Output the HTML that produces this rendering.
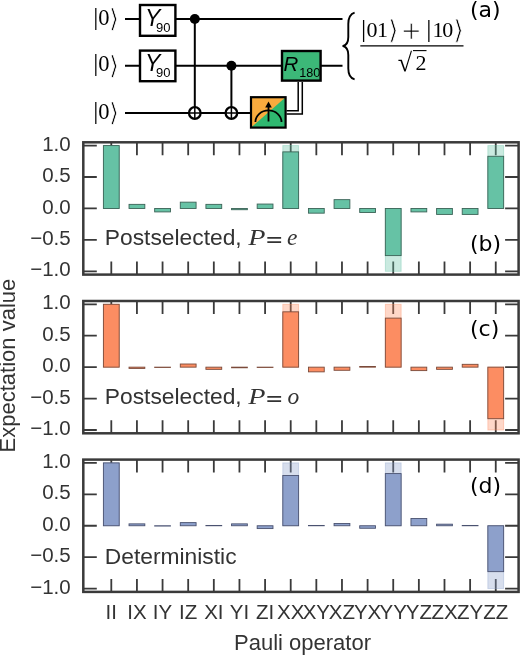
<!DOCTYPE html>
<html><head><meta charset="utf-8"><title>Pauli expectation values</title>
<style>
html,body{margin:0;padding:0;background:#fff;width:520px;height:655px;overflow:hidden;}
svg{display:block;}
svg{font-family:"Liberation Sans",Arial,sans-serif;} text{fill:#333333;} .k text, text.k{fill:#000;} .r{font-family:"Liberation Serif","DejaVu Serif",serif;} .rs{font-family:"Liberation Serif",serif;} .dv{font-family:"DejaVu Sans",sans-serif;} .dvs{font-family:"DejaVu Serif",serif;} .th{stroke:#fff;stroke-width:0.7px;}
</style></head><body>
<svg width="520" height="655" viewBox="0 0 520 655">
<g id="circuit" stroke="#000" fill="none">
<line x1="125" y1="19.0" x2="342.5" y2="19.0" stroke-width="2"/>
<line x1="125" y1="65.7" x2="342.5" y2="65.7" stroke-width="2"/>
<line x1="125" y1="113.0" x2="251" y2="113.0" stroke-width="2"/>
<line x1="194.8" y1="19.0" x2="194.8" y2="113.0" stroke-width="2"/>
<line x1="231.4" y1="65.7" x2="231.4" y2="113.0" stroke-width="2"/>
<circle cx="194.8" cy="19.0" r="5" fill="#000" stroke="none"/>
<circle cx="231.4" cy="65.7" r="5" fill="#000" stroke="none"/>
<circle cx="194.8" cy="113.0" r="5.8" fill="#fff" stroke-width="2.3"/>
<line x1="189.0" y1="113.0" x2="200.60000000000002" y2="113.0" stroke-width="1.5"/>
<line x1="194.8" y1="107.2" x2="194.8" y2="118.8" stroke-width="1.5"/>
<circle cx="231.4" cy="113.0" r="5.8" fill="#fff" stroke-width="2.3"/>
<line x1="225.6" y1="113.0" x2="237.20000000000002" y2="113.0" stroke-width="1.5"/>
<line x1="231.4" y1="107.2" x2="231.4" y2="118.8" stroke-width="1.5"/>
<rect x="140" y="5.0" width="35.4" height="30.799999999999997" fill="#fff" stroke-width="2.4"/>
<rect x="140" y="50.6" width="35.4" height="30.6" fill="#fff" stroke-width="2.4"/>
<rect x="282" y="51" width="38.6" height="29.6" fill="#3cb878" stroke-width="2.4"/>
<rect x="251" y="97.2" width="34.6" height="30.4" fill="#f9ab3e" stroke="none"/>
<path d="M251,127.6 L285.6,97.2 L285.6,127.6 Z" fill="#2fb870" stroke="none"/>
<rect x="251" y="97.2" width="34.6" height="30.4" fill="none" stroke-width="2.2"/>
<path d="M255.4,122 A13,11.5 0 0 1 281.5,122" stroke-width="1.8"/>
<line x1="268.5" y1="121.5" x2="268.5" y2="106" stroke-width="1.8"/>
<path d="M265.2,107.6 L268.5,101.5 L271.8,107.6 Z" fill="#000" stroke="none"/>
<path d="M286.5,110.7 H298.2 V82" stroke-width="1.5"/>
<path d="M286.5,114.1 H302.3 V82" stroke-width="1.5"/>
<path d="M354.6,12.6 C350.2,14 348.3,17.5 348.3,24 L348.3,37 C348.3,42.5 346.8,45 343.2,46 C346.8,47 348.3,49.5 348.3,55 L348.3,68.5 C348.3,75 350.2,78.2 354.6,79.4" stroke-width="1.9" stroke-linejoin="round"/>
</g>
<g class="r k">
<text y="24.7"><tspan x="93.3" font-size="25.5">|</tspan><tspan x="98.3" font-size="22.5">0</tspan><tspan x="108.9" y="26.8" font-size="25.5" class="th">⟩</tspan></text>
<text y="71.4"><tspan x="93.3" font-size="25.5">|</tspan><tspan x="98.3" font-size="22.5">0</tspan><tspan x="108.9" y="73.5" font-size="25.5" class="th">⟩</tspan></text>
<text y="118.7"><tspan x="93.3" font-size="25.5">|</tspan><tspan x="98.3" font-size="22.5">0</tspan><tspan x="108.9" y="120.8" font-size="25.5" class="th">⟩</tspan></text>
</g>
<g class="k">
<text x="145" y="25.5" font-size="23" font-style="italic">Y</text><text x="156" y="31.7" font-size="13">90</text>
<text x="145" y="71.1" font-size="23" font-style="italic">Y</text><text x="156" y="77.3" font-size="13">90</text>
<text x="283.5" y="71.4" font-size="20.5" font-style="italic">R</text><text x="299.2" y="76.9" font-size="12.6">180</text>
</g>
<g class="r k">
<text y="36.7" font-size="22"><tspan x="361" font-size="26">|</tspan><tspan x="366.4">0</tspan><tspan x="377">1</tspan><tspan x="388.2" y="38.85" font-size="26" class="th">⟩</tspan><tspan x="400.8" y="38.6" font-size="25" class="dvs th">+</tspan><tspan x="426.2" y="36.7" font-size="26">|</tspan><tspan x="432.6">1</tspan><tspan x="442.2">0</tspan><tspan x="453.6" y="38.85" font-size="26" class="th">⟩</tspan></text>
<text y="70.8" font-size="26"><tspan x="397.7">√</tspan><tspan x="415.6" y="69.5" font-size="22">2</tspan></text>
</g>
<line x1="360.3" y1="45.8" x2="463.5" y2="45.8" stroke="#000" stroke-width="1.2"/>
<line x1="413" y1="50.6" x2="426.5" y2="50.6" stroke="#000" stroke-width="1.1"/>
<text x="470" y="17.3" class="dv k" font-size="22">(a)</text>
<path d="M83.3,145.59h13.5M518.6,145.59h-13.5M83.3,177.02h13.5M518.6,177.02h-13.5M83.3,208.45h13.5M518.6,208.45h-13.5M83.3,239.88h13.5M518.6,239.88h-13.5M83.3,271.31h13.5M518.6,271.31h-13.5M111.3,142.3v13M111.3,274.6v-13M136.93,142.3v13M136.93,274.6v-13M162.56,142.3v13M162.56,274.6v-13M188.19,142.3v13M188.19,274.6v-13M213.82,142.3v13M213.82,274.6v-13M239.45,142.3v13M239.45,274.6v-13M265.08,142.3v13M265.08,274.6v-13M290.71,142.3v13M290.71,274.6v-13M316.34,142.3v13M316.34,274.6v-13M341.97,142.3v13M341.97,274.6v-13M367.6,142.3v13M367.6,274.6v-13M393.23,142.3v13M393.23,274.6v-13M418.86,142.3v13M418.86,274.6v-13M444.49,142.3v13M444.49,274.6v-13M470.12,142.3v13M470.12,274.6v-13M495.75,142.3v13M495.75,274.6v-13" stroke="#3a3a3a" stroke-width="1.8" fill="none"/>
<rect x="103.4" y="145.59" width="15.8" height="62.86" fill="#66c2a5" fill-opacity="0.35" stroke="#66c2a5" stroke-opacity="0.4" stroke-width="0.9"/>
<rect x="282.81" y="145.59" width="15.8" height="62.86" fill="#66c2a5" fill-opacity="0.35" stroke="#66c2a5" stroke-opacity="0.4" stroke-width="0.9"/>
<rect x="385.33" y="208.45" width="15.8" height="62.86" fill="#66c2a5" fill-opacity="0.35" stroke="#66c2a5" stroke-opacity="0.4" stroke-width="0.9"/>
<rect x="487.85" y="145.59" width="15.8" height="62.86" fill="#66c2a5" fill-opacity="0.35" stroke="#66c2a5" stroke-opacity="0.4" stroke-width="0.9"/>
<rect x="103.4" y="145.59" width="15.8" height="62.86" fill="#66c2a5" stroke="#3b6357" stroke-width="0.9"/>
<rect x="129.03" y="204.36" width="15.8" height="4.09" fill="#66c2a5" stroke="#3b6357" stroke-width="0.9"/>
<rect x="154.66" y="208.45" width="15.8" height="3.46" fill="#66c2a5" stroke="#3b6357" stroke-width="0.9"/>
<rect x="180.29" y="202.16" width="15.8" height="6.29" fill="#66c2a5" stroke="#3b6357" stroke-width="0.9"/>
<rect x="205.92" y="204.36" width="15.8" height="4.09" fill="#66c2a5" stroke="#3b6357" stroke-width="0.9"/>
<rect x="231.55" y="208.45" width="15.8" height="1.26" fill="#66c2a5" stroke="#3b6357" stroke-width="0.9"/>
<rect x="257.18" y="204.05" width="15.8" height="4.4" fill="#66c2a5" stroke="#3b6357" stroke-width="0.9"/>
<rect x="282.81" y="151.88" width="15.8" height="56.57" fill="#66c2a5" stroke="#3b6357" stroke-width="0.9"/>
<rect x="308.44" y="208.45" width="15.8" height="4.71" fill="#66c2a5" stroke="#3b6357" stroke-width="0.9"/>
<rect x="334.07" y="199.65" width="15.8" height="8.8" fill="#66c2a5" stroke="#3b6357" stroke-width="0.9"/>
<rect x="359.7" y="208.45" width="15.8" height="4.09" fill="#66c2a5" stroke="#3b6357" stroke-width="0.9"/>
<rect x="385.33" y="208.45" width="15.8" height="47.15" fill="#66c2a5" stroke="#3b6357" stroke-width="0.9"/>
<rect x="410.96" y="208.45" width="15.8" height="3.46" fill="#66c2a5" stroke="#3b6357" stroke-width="0.9"/>
<rect x="436.59" y="208.45" width="15.8" height="5.97" fill="#66c2a5" stroke="#3b6357" stroke-width="0.9"/>
<rect x="462.22" y="208.45" width="15.8" height="5.97" fill="#66c2a5" stroke="#3b6357" stroke-width="0.9"/>
<rect x="487.85" y="156.28" width="15.8" height="52.17" fill="#66c2a5" stroke="#3b6357" stroke-width="0.9"/>
<rect x="83.3" y="142.3" width="435.3" height="132.3" fill="none" stroke="#3a3a3a" stroke-width="2.5"/>
<text x="70.7" y="150.69" text-anchor="end" font-size="20.5">1.0</text>
<text x="70.7" y="182.12" text-anchor="end" font-size="20.5">0.5</text>
<text x="70.7" y="213.55" text-anchor="end" font-size="20.5">0.0</text>
<text x="70.7" y="244.98" text-anchor="end" font-size="20.5">−0.5</text>
<text x="70.7" y="276.41" text-anchor="end" font-size="20.5">−1.0</text>
<text x="470" y="250.5" class="dv k" font-size="22">(b)</text>
<path d="M83.3,304.29h13.5M518.6,304.29h-13.5M83.3,335.72h13.5M518.6,335.72h-13.5M83.3,367.15h13.5M518.6,367.15h-13.5M83.3,398.58h13.5M518.6,398.58h-13.5M83.3,430.01h13.5M518.6,430.01h-13.5M111.3,301v13M111.3,433.3v-13M136.93,301v13M136.93,433.3v-13M162.56,301v13M162.56,433.3v-13M188.19,301v13M188.19,433.3v-13M213.82,301v13M213.82,433.3v-13M239.45,301v13M239.45,433.3v-13M265.08,301v13M265.08,433.3v-13M290.71,301v13M290.71,433.3v-13M316.34,301v13M316.34,433.3v-13M341.97,301v13M341.97,433.3v-13M367.6,301v13M367.6,433.3v-13M393.23,301v13M393.23,433.3v-13M418.86,301v13M418.86,433.3v-13M444.49,301v13M444.49,433.3v-13M470.12,301v13M470.12,433.3v-13M495.75,301v13M495.75,433.3v-13" stroke="#3a3a3a" stroke-width="1.8" fill="none"/>
<rect x="103.4" y="304.29" width="15.8" height="62.86" fill="#fc8d62" fill-opacity="0.35" stroke="#fc8d62" stroke-opacity="0.4" stroke-width="0.9"/>
<rect x="282.81" y="304.29" width="15.8" height="62.86" fill="#fc8d62" fill-opacity="0.35" stroke="#fc8d62" stroke-opacity="0.4" stroke-width="0.9"/>
<rect x="385.33" y="304.29" width="15.8" height="62.86" fill="#fc8d62" fill-opacity="0.35" stroke="#fc8d62" stroke-opacity="0.4" stroke-width="0.9"/>
<rect x="487.85" y="367.15" width="15.8" height="62.86" fill="#fc8d62" fill-opacity="0.35" stroke="#fc8d62" stroke-opacity="0.4" stroke-width="0.9"/>
<rect x="103.4" y="304.29" width="15.8" height="62.86" fill="#fc8d62" stroke="#7a4a3a" stroke-width="0.9"/>
<rect x="129.03" y="367.15" width="15.8" height="1.26" fill="#fc8d62" stroke="#7a4a3a" stroke-width="0.9"/>
<rect x="154.66" y="367.15" width="15.8" height="0.31" fill="#fc8d62" stroke="#7a4a3a" stroke-width="0.9"/>
<rect x="180.29" y="364.01" width="15.8" height="3.14" fill="#fc8d62" stroke="#7a4a3a" stroke-width="0.9"/>
<rect x="205.92" y="367.15" width="15.8" height="2.2" fill="#fc8d62" stroke="#7a4a3a" stroke-width="0.9"/>
<rect x="231.55" y="367.15" width="15.8" height="0.63" fill="#fc8d62" stroke="#7a4a3a" stroke-width="0.9"/>
<rect x="257.18" y="367.15" width="15.8" height="0.31" fill="#fc8d62" stroke="#7a4a3a" stroke-width="0.9"/>
<rect x="282.81" y="311.83" width="15.8" height="55.32" fill="#fc8d62" stroke="#7a4a3a" stroke-width="0.9"/>
<rect x="308.44" y="367.15" width="15.8" height="4.71" fill="#fc8d62" stroke="#7a4a3a" stroke-width="0.9"/>
<rect x="334.07" y="367.15" width="15.8" height="3.14" fill="#fc8d62" stroke="#7a4a3a" stroke-width="0.9"/>
<rect x="359.7" y="366.52" width="15.8" height="0.63" fill="#fc8d62" stroke="#7a4a3a" stroke-width="0.9"/>
<rect x="385.33" y="318.12" width="15.8" height="49.03" fill="#fc8d62" stroke="#7a4a3a" stroke-width="0.9"/>
<rect x="410.96" y="367.15" width="15.8" height="3.46" fill="#fc8d62" stroke="#7a4a3a" stroke-width="0.9"/>
<rect x="436.59" y="367.15" width="15.8" height="2.2" fill="#fc8d62" stroke="#7a4a3a" stroke-width="0.9"/>
<rect x="462.22" y="364.32" width="15.8" height="2.83" fill="#fc8d62" stroke="#7a4a3a" stroke-width="0.9"/>
<rect x="487.85" y="367.15" width="15.8" height="51.55" fill="#fc8d62" stroke="#7a4a3a" stroke-width="0.9"/>
<rect x="83.3" y="301" width="435.3" height="132.3" fill="none" stroke="#3a3a3a" stroke-width="2.5"/>
<text x="70.7" y="309.39" text-anchor="end" font-size="20.5">1.0</text>
<text x="70.7" y="340.82" text-anchor="end" font-size="20.5">0.5</text>
<text x="70.7" y="372.25" text-anchor="end" font-size="20.5">0.0</text>
<text x="70.7" y="403.68" text-anchor="end" font-size="20.5">−0.5</text>
<text x="70.7" y="435.11" text-anchor="end" font-size="20.5">−1.0</text>
<text x="470" y="335.6" class="dv k" font-size="22">(c)</text>
<path d="M83.3,462.89h13.5M518.6,462.89h-13.5M83.3,494.32h13.5M518.6,494.32h-13.5M83.3,525.75h13.5M518.6,525.75h-13.5M83.3,557.18h13.5M518.6,557.18h-13.5M83.3,588.61h13.5M518.6,588.61h-13.5M111.3,459.6v13M111.3,591.9v-13M136.93,459.6v13M136.93,591.9v-13M162.56,459.6v13M162.56,591.9v-13M188.19,459.6v13M188.19,591.9v-13M213.82,459.6v13M213.82,591.9v-13M239.45,459.6v13M239.45,591.9v-13M265.08,459.6v13M265.08,591.9v-13M290.71,459.6v13M290.71,591.9v-13M316.34,459.6v13M316.34,591.9v-13M341.97,459.6v13M341.97,591.9v-13M367.6,459.6v13M367.6,591.9v-13M393.23,459.6v13M393.23,591.9v-13M418.86,459.6v13M418.86,591.9v-13M444.49,459.6v13M444.49,591.9v-13M470.12,459.6v13M470.12,591.9v-13M495.75,459.6v13M495.75,591.9v-13" stroke="#3a3a3a" stroke-width="1.8" fill="none"/>
<rect x="103.4" y="462.89" width="15.8" height="62.86" fill="#8da0cb" fill-opacity="0.35" stroke="#8da0cb" stroke-opacity="0.4" stroke-width="0.9"/>
<rect x="282.81" y="462.89" width="15.8" height="62.86" fill="#8da0cb" fill-opacity="0.35" stroke="#8da0cb" stroke-opacity="0.4" stroke-width="0.9"/>
<rect x="385.33" y="462.89" width="15.8" height="62.86" fill="#8da0cb" fill-opacity="0.35" stroke="#8da0cb" stroke-opacity="0.4" stroke-width="0.9"/>
<rect x="487.85" y="525.75" width="15.8" height="62.86" fill="#8da0cb" fill-opacity="0.35" stroke="#8da0cb" stroke-opacity="0.4" stroke-width="0.9"/>
<rect x="103.4" y="462.89" width="15.8" height="62.86" fill="#8da0cb" stroke="#4a5270" stroke-width="0.9"/>
<rect x="129.03" y="523.86" width="15.8" height="1.89" fill="#8da0cb" stroke="#4a5270" stroke-width="0.9"/>
<rect x="154.66" y="525.75" width="15.8" height="0.31" fill="#8da0cb" stroke="#4a5270" stroke-width="0.9"/>
<rect x="180.29" y="522.61" width="15.8" height="3.14" fill="#8da0cb" stroke="#4a5270" stroke-width="0.9"/>
<rect x="205.92" y="525.44" width="15.8" height="0.31" fill="#8da0cb" stroke="#4a5270" stroke-width="0.9"/>
<rect x="231.55" y="523.86" width="15.8" height="1.89" fill="#8da0cb" stroke="#4a5270" stroke-width="0.9"/>
<rect x="257.18" y="525.75" width="15.8" height="2.83" fill="#8da0cb" stroke="#4a5270" stroke-width="0.9"/>
<rect x="282.81" y="475.46" width="15.8" height="50.29" fill="#8da0cb" stroke="#4a5270" stroke-width="0.9"/>
<rect x="308.44" y="525.44" width="15.8" height="0.31" fill="#8da0cb" stroke="#4a5270" stroke-width="0.9"/>
<rect x="334.07" y="523.55" width="15.8" height="2.2" fill="#8da0cb" stroke="#4a5270" stroke-width="0.9"/>
<rect x="359.7" y="525.75" width="15.8" height="2.51" fill="#8da0cb" stroke="#4a5270" stroke-width="0.9"/>
<rect x="385.33" y="473.58" width="15.8" height="52.17" fill="#8da0cb" stroke="#4a5270" stroke-width="0.9"/>
<rect x="410.96" y="518.52" width="15.8" height="7.23" fill="#8da0cb" stroke="#4a5270" stroke-width="0.9"/>
<rect x="436.59" y="524.18" width="15.8" height="1.57" fill="#8da0cb" stroke="#4a5270" stroke-width="0.9"/>
<rect x="462.22" y="525.44" width="15.8" height="0.31" fill="#8da0cb" stroke="#4a5270" stroke-width="0.9"/>
<rect x="487.85" y="525.75" width="15.8" height="45.89" fill="#8da0cb" stroke="#4a5270" stroke-width="0.9"/>
<rect x="83.3" y="459.6" width="435.3" height="132.3" fill="none" stroke="#3a3a3a" stroke-width="2.5"/>
<text x="70.7" y="467.99" text-anchor="end" font-size="20.5">1.0</text>
<text x="70.7" y="499.42" text-anchor="end" font-size="20.5">0.5</text>
<text x="70.7" y="530.85" text-anchor="end" font-size="20.5">0.0</text>
<text x="70.7" y="562.28" text-anchor="end" font-size="20.5">−0.5</text>
<text x="70.7" y="593.71" text-anchor="end" font-size="20.5">−1.0</text>
<text x="470" y="493.4" class="dv k" font-size="22">(d)</text>
<text x="104.8" y="245.4" font-size="22.8">Postselected,</text><text class="rs" font-style="italic" font-size="23.5" transform="translate(248.3,245.4) scale(1.2,1)">P</text><text class="dvs" font-size="22" x="265" y="246.9">=</text><text class="rs" font-style="italic" font-size="23.5" x="287" y="245.4">e</text>
<text x="104.8" y="404.1" font-size="22.8">Postselected,</text><text class="rs" font-style="italic" font-size="23.5" transform="translate(248.3,404.1) scale(1.2,1)">P</text><text class="dvs" font-size="22" x="265" y="405.6">=</text><text class="rs" font-style="italic" font-size="23.5" x="287.5" y="404.1">o</text>
<text x="104.8" y="564" font-size="22.8">Deterministic</text>
<text x="111.3" y="619" text-anchor="middle" font-size="20.5">II</text>
<text x="136.93" y="619" text-anchor="middle" font-size="20.5">IX</text>
<text x="162.56" y="619" text-anchor="middle" font-size="20.5">IY</text>
<text x="188.19" y="619" text-anchor="middle" font-size="20.5">IZ</text>
<text x="213.82" y="619" text-anchor="middle" font-size="20.5">XI</text>
<text x="239.45" y="619" text-anchor="middle" font-size="20.5">YI</text>
<text x="265.08" y="619" text-anchor="middle" font-size="20.5">ZI</text>
<text x="290.71" y="619" text-anchor="middle" font-size="20.5">XX</text>
<text x="316.34" y="619" text-anchor="middle" font-size="20.5">XY</text>
<text x="341.97" y="619" text-anchor="middle" font-size="20.5">XZ</text>
<text x="367.6" y="619" text-anchor="middle" font-size="20.5">YX</text>
<text x="393.23" y="619" text-anchor="middle" font-size="20.5">YY</text>
<text x="418.86" y="619" text-anchor="middle" font-size="20.5">YZ</text>
<text x="444.49" y="619" text-anchor="middle" font-size="20.5">ZX</text>
<text x="470.12" y="619" text-anchor="middle" font-size="20.5">ZY</text>
<text x="495.75" y="619" text-anchor="middle" font-size="20.5">ZZ</text>
<text x="302.5" y="649.8" text-anchor="middle" font-size="22">Pauli operator</text>
<text transform="translate(14.9,365.6) rotate(-90)" text-anchor="middle" font-size="22">Expectation value</text>
</svg>
</body></html>
